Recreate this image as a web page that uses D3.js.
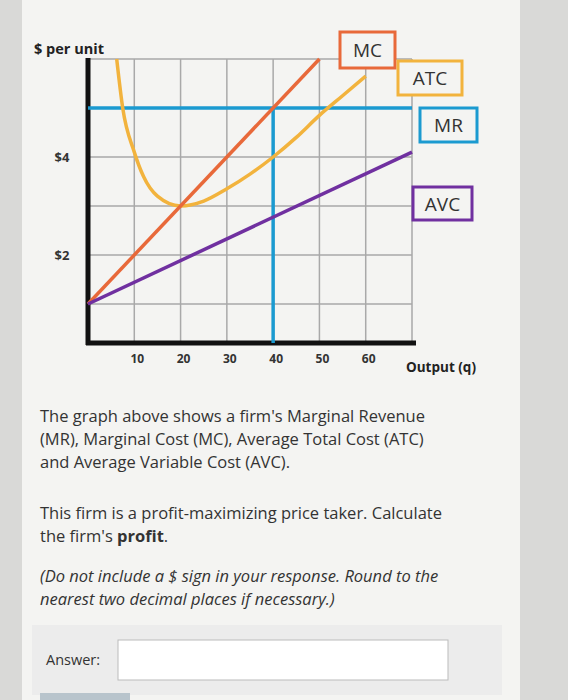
<!DOCTYPE html>
<html><head><meta charset="utf-8">
<script src="https://cdn.jsdelivr.net/npm/d3@7"></script>
<style>body{margin:0;background:#d9d9d7;}svg{display:block}</style>
</head><body><svg id="c" width="568" height="700"></svg>
<script>
// chart values
const xTicks = [10, 20, 30, 40, 50, 60];
const yTicks = [2, 4];
const mcQ = [0, 50], mcP = [1, 6];
const avcQ = [0, 70], avcP = [1, 4.1];
const mrQ = [0, 70], mrP = [5, 5];
const atcQ = [6.2, 7.5, 10, 12, 15, 20, 25, 30, 35, 40, 45, 50, 55, 60];
const atcP = [6.0, 5.0, 4.1, 3.6, 3.2, 3.0, 3.1, 3.35, 3.65, 4.0, 4.4, 4.85, 5.25, 5.65];
const outQ = 40;

const svg = d3.select("#c");
svg.append("rect").attr("x", 22).attr("y", 0).attr("width", 498).attr("height", 700).attr("fill", "#f4f4f2");

const x = d3.scaleLinear().domain([0, 70]).range([88, 412]);
const y = d3.scaleLinear().domain([0, 6]).range([353, 59]);

// grid
const g = svg.append("g").attr("stroke", "#a9a9a9").attr("stroke-width", 1.5);
d3.range(10, 71, 10).forEach(v => g.append("line").attr("x1", x(v)).attr("x2", x(v)).attr("y1", y(6)).attr("y2", 343));
d3.range(1, 7).forEach(v => g.append("line").attr("x1", x(0)).attr("x2", x(70)).attr("y1", y(v)).attr("y2", y(v)));

// axes
svg.append("line").attr("x1", 88).attr("x2", 88).attr("y1", 58).attr("y2", 345).attr("stroke", "#111").attr("stroke-width", 5);
svg.append("line").attr("x1", 86).attr("x2", 416).attr("y1", 343).attr("y2", 343).attr("stroke", "#111").attr("stroke-width", 5);

const line = d3.line().x(d => x(d[0])).y(d => y(d[1]));
function draw(qs, ps, color, curve) {
  svg.append("path").datum(qs.map((q, i) => [q, ps[i]]))
    .attr("d", curve ? line.curve(curve) : line.curve(d3.curveLinear))
    .attr("fill", "none").attr("stroke", color).attr("stroke-width", 3.5);
}
draw(mrQ, mrP, "#1b9ad0");
svg.append("line").attr("x1", x(outQ)).attr("x2", x(outQ)).attr("y1", y(5)).attr("y2", 343)
  .attr("stroke", "#1b9ad0").attr("stroke-width", 3.5);
draw(atcQ, atcP, "#f2b33d", d3.curveMonotoneX);
draw(mcQ, mcP, "#e8693a");
draw(avcQ, avcP, "#7030a0");

// tick labels
const font = "'Open Sans', Arial, sans-serif";
svg.selectAll(".xt").data(xTicks).enter().append("text")
  .attr("x", d => x(d) + 3).attr("y", 363).attr("text-anchor", "middle")
  .attr("font-family", font).attr("font-size", 12).attr("font-weight", "bold").attr("fill", "#333").text(d => d);
svg.selectAll(".yt").data(yTicks).enter().append("text")
  .attr("x", 62).attr("y", d => y(d) + 5).attr("text-anchor", "middle")
  .attr("font-family", font).attr("font-size", 13).attr("font-weight", "bold").attr("fill", "#333").text(d => "$" + d);
svg.append("text").attr("x", 34).attr("y", 54).attr("font-family", font).attr("font-size", 14.5)
  .attr("font-weight", "bold").attr("fill", "#222").text("$ per unit");
svg.append("text").attr("x", 406).attr("y", 372).attr("font-family", font).attr("font-size", 13.5)
  .attr("font-weight", "bold").attr("fill", "#222").text("Output (q)");

// legend boxes
const boxes = [
  {t: "MC", x: 340, y: 32, w: 55, h: 36, c: "#e8693a"},
  {t: "ATC", x: 398, y: 61, w: 64, h: 34, c: "#f2b33d"},
  {t: "MR", x: 420, y: 108, w: 57, h: 34, c: "#1b9ad0"},
  {t: "AVC", x: 413, y: 187, w: 59, h: 33, c: "#7030a0"}
];
boxes.forEach(b => {
  svg.append("rect").attr("x", b.x).attr("y", b.y).attr("width", b.w).attr("height", b.h)
    .attr("fill", "#f4f4f2").attr("stroke", b.c).attr("stroke-width", 3);
  svg.append("text").attr("x", b.x + b.w / 2).attr("y", b.y + b.h / 2 + 7).attr("text-anchor", "middle")
    .attr("font-family", font).attr("font-size", 19).attr("fill", "#333").text(b.t);
});

// question text
const tf = "'Open Sans', Arial, sans-serif";
const fs = 16.5;
const lines = [
  {t: "The graph above shows a firm's Marginal Revenue", y: 422},
  {t: "(MR), Marginal Cost (MC), Average Total Cost (ATC)", y: 445},
  {t: "and Average Variable Cost (AVC).", y: 468}
];
lines.forEach(l => svg.append("text").attr("x", 40).attr("y", l.y).attr("font-family", tf).attr("font-size", fs).attr("fill", "#333").text(l.t));
svg.append("text").attr("x", 40).attr("y", 519).attr("font-family", tf).attr("font-size", fs).attr("fill", "#333")
  .text("This firm is a profit-maximizing price taker. Calculate");
const p3 = svg.append("text").attr("x", 40).attr("y", 542).attr("font-family", tf).attr("font-size", fs).attr("fill", "#333");
p3.append("tspan").text("the firm's ");
p3.append("tspan").attr("font-weight", "bold").text("profit");
p3.append("tspan").text(".");
[["(Do not include a $ sign in your response. Round to the", 582], ["nearest two decimal places if necessary.)", 605]].forEach(d =>
  svg.append("text").attr("x", 40).attr("y", d[1]).attr("font-family", tf).attr("font-size", fs)
    .attr("font-style", "italic").attr("fill", "#333").text(d[0]));

svg.append("rect").attr("x", 32).attr("y", 625).attr("width", 470).attr("height", 70).attr("fill", "#ececec");
svg.append("text").attr("x", 46).attr("y", 665).attr("font-family", tf).attr("font-size", 14.5).attr("fill", "#333").text("Answer:");
svg.append("rect").attr("x", 118).attr("y", 640).attr("width", 330).attr("height", 40).attr("fill", "#fff").attr("stroke", "#bbb");
svg.append("rect").attr("x", 40).attr("y", 693).attr("width", 90).attr("height", 10).attr("fill", "#b8c4cc");
</script></body></html>
